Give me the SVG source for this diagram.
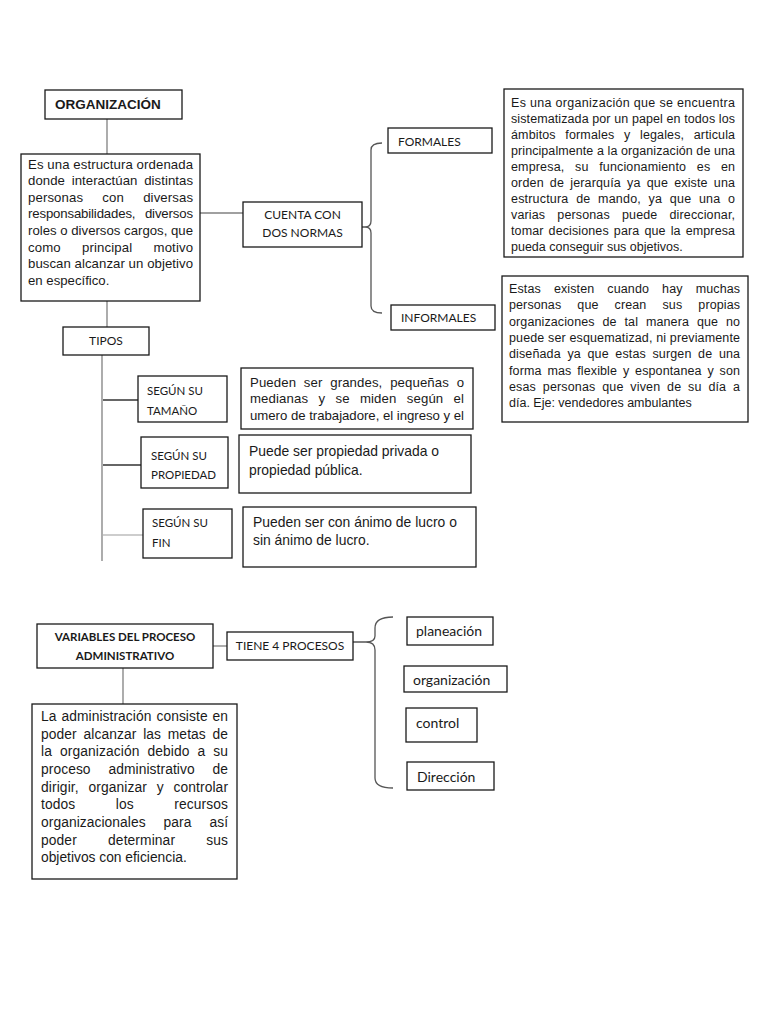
<svg xmlns="http://www.w3.org/2000/svg" width="768" height="1024" viewBox="0 0 768 1024">
<style>
.box{fill:#fff;stroke:#1a1a1a;stroke-width:1.3}
.ln{stroke:#808080;stroke-width:1.3;fill:none}
.dk{stroke:#333;stroke-width:1.3;fill:none}
.lt{stroke:#bdbdbd;stroke-width:1.3;fill:none}
.br{stroke:#555;stroke-width:1.3;fill:none}
.t{font-family:"Liberation Sans",Arial,sans-serif;fill:#1a1a1a}
.c{font-family:Lato,"Open Sans",sans-serif;fill:#1a1a1a}
.m{font-size:13.2px}
.r{font-size:12.5px}
.s{font-size:13.2px}
.b{font-size:13.8px}
</style>
<rect width="768" height="1024" fill="#fff"/>
<g id="connectors">
<line class="ln" x1="107" y1="119" x2="107" y2="154"/>
<line class="ln" x1="200" y1="213" x2="243" y2="213"/>
<line class="ln" x1="107" y1="301" x2="107" y2="327"/>
<line class="ln" x1="102" y1="355" x2="102" y2="561"/>
<line class="dk" x1="103" y1="400" x2="138" y2="400"/>
<line class="dk" x1="103" y1="465" x2="141" y2="465"/>
<line class="lt" x1="103" y1="535" x2="143" y2="535"/>
<path class="br" d="M382,143 Q371,143 371,150 L371,221 Q371,227 365,227 L362,227 M365,227 Q371,227 371,233 L371,306 Q371,313 382,313"/>
<line class="ln" x1="213" y1="646" x2="227" y2="646"/>
<line class="ln" x1="123" y1="668" x2="123" y2="704"/>
<path class="br" d="M393,617 Q375,617 375,628 L375,636 Q375,642 366,642 L353,642 M366,642 Q375,642 375,650 L375,778 Q375,788 393,788"/>
</g>
<g id="organizacion">
<rect class="box" x="45" y="90" width="137" height="29"/>
<text class="t" x="55" y="108.5" font-size="13.5" font-weight="bold">ORGANIZACIÓN</text>
</g>
<g id="definicion">
<rect class="box" x="21" y="154" width="179" height="147"/>
<g class="t m">
<text x="28" y="168.5" textLength="165" lengthAdjust="spacing">Es una estructura ordenada</text>
<text x="28" y="185.1" textLength="165" lengthAdjust="spacing" word-spacing="3">donde interactúan distintas</text>
<text x="28" y="201.7" textLength="165" lengthAdjust="spacing" word-spacing="15.5">personas con diversas</text>
<text x="28" y="218.3" textLength="165" lengthAdjust="spacing" word-spacing="6">responsabilidades, diversos</text>
<text x="28" y="234.9" textLength="165" lengthAdjust="spacing">roles o diversos cargos, que</text>
<text x="28" y="251.5" textLength="165" lengthAdjust="spacing" word-spacing="17.5">como principal motivo</text>
<text x="28" y="268.1" textLength="165" lengthAdjust="spacing">buscan alcanzar un objetivo</text>
<text x="28" y="284.7">en específico.</text>
</g>
</g>
<g id="cuenta">
<rect class="box" x="243" y="202" width="119" height="45"/>
<text class="c" font-size="12" text-anchor="middle"><tspan x="302.5" y="219">CUENTA CON</tspan><tspan x="302.5" y="237">DOS NORMAS</tspan></text>
</g>
<g id="formales">
<rect class="box" x="388" y="128" width="104" height="25"/>
<text class="c" x="398" y="146" font-size="12">FORMALES</text>
</g>
<g id="informales">
<rect class="box" x="391" y="305" width="104" height="25"/>
<text class="c" x="401" y="322" font-size="12">INFORMALES</text>
</g>
<g id="desc-formales">
<rect class="box" x="504" y="89" width="239" height="168"/>
<g class="t r">
<text x="511" y="106.5" textLength="224" lengthAdjust="spacing">Es una organización que se encuentra</text>
<text x="511" y="122.6" textLength="224" lengthAdjust="spacing">sistematizada por un papel en todos los</text>
<text x="511" y="138.7" textLength="224" lengthAdjust="spacing" word-spacing="6">ámbitos formales y legales, articula</text>
<text x="511" y="154.8" textLength="224" lengthAdjust="spacing">principalmente a la organización de una</text>
<text x="511" y="170.9" textLength="224" lengthAdjust="spacing" word-spacing="7">empresa, su funcionamiento es en</text>
<text x="511" y="187" textLength="224" lengthAdjust="spacing" word-spacing="2.5">orden de jerarquía ya que existe una</text>
<text x="511" y="203.1" textLength="224" lengthAdjust="spacing" word-spacing="4">estructura de mando, ya que una o</text>
<text x="511" y="219.2" textLength="224" lengthAdjust="spacing" word-spacing="8.5">varias personas puede direccionar,</text>
<text x="511" y="235.3" textLength="224" lengthAdjust="spacing" word-spacing="1.5">tomar decisiones para que la empresa</text>
<text x="511" y="251.4">pueda conseguir sus objetivos.</text>
</g>
</g>
<g id="desc-informales">
<rect class="box" x="502" y="276" width="246" height="146"/>
<g class="t r">
<text x="509" y="293" textLength="231" lengthAdjust="spacing" word-spacing="9.5">Estas existen cuando hay muchas</text>
<text x="509" y="309.3" textLength="231" lengthAdjust="spacing" word-spacing="12.5">personas que crean sus propias</text>
<text x="509" y="325.6" textLength="231" lengthAdjust="spacing" word-spacing="4.3">organizaciones de tal manera que no</text>
<text x="509" y="341.9" textLength="231" lengthAdjust="spacing">puede ser esquematizad, ni previamente</text>
<text x="509" y="358.2" textLength="231" lengthAdjust="spacing" word-spacing="3">diseñada ya que estas surgen de una</text>
<text x="509" y="374.5" textLength="231" lengthAdjust="spacing" word-spacing="2.2">forma mas flexible y espontanea y son</text>
<text x="509" y="390.8" textLength="231" lengthAdjust="spacing" word-spacing="3.2">esas personas que viven de su día a</text>
<text x="509" y="407.1">día. Eje: vendedores ambulantes</text>
</g>
</g>
<g id="tipos">
<rect class="box" x="63" y="327" width="86" height="28"/>
<text class="c" x="106" y="345" font-size="12" text-anchor="middle">TIPOS</text>
</g>
<g id="tamano">
<rect class="box" x="138" y="376" width="89" height="46"/>
<text class="c" font-size="11.5"><tspan x="147" y="395">SEGÚN SU</tspan><tspan x="147" y="415">TAMAÑO</tspan></text>
</g>
<g id="desc-tamano">
<rect class="box" x="241" y="368" width="232" height="61"/>
<g class="t s">
<text x="250" y="386.5" textLength="214" lengthAdjust="spacing" word-spacing="4">Pueden ser grandes, pequeñas o</text>
<text x="250" y="403" textLength="214" lengthAdjust="spacing" word-spacing="6.5">medianas y se miden según el</text>
<text x="250" y="419.5" textLength="214" lengthAdjust="spacing">umero de trabajadore, el ingreso y el</text>
</g>
</g>
<g id="propiedad">
<rect class="box" x="141" y="437" width="87" height="51"/>
<text class="c" font-size="11.5"><tspan x="151" y="460">SEGÚN SU</tspan><tspan x="151" y="479">PROPIEDAD</tspan></text>
</g>
<g id="desc-propiedad">
<rect class="box" x="239" y="435" width="232" height="58"/>
<text class="t" font-size="13.9"><tspan x="249" y="456">Puede ser propiedad privada o</tspan><tspan x="249" y="475">propiedad pública.</tspan></text>
</g>
<g id="fin">
<rect class="box" x="143" y="509" width="89" height="49"/>
<text class="c" font-size="11.5"><tspan x="152" y="527">SEGÚN SU</tspan><tspan x="152" y="547">FIN</tspan></text>
</g>
<g id="desc-fin">
<rect class="box" x="243" y="507" width="233" height="60"/>
<text class="t" font-size="13.9"><tspan x="253" y="526.5">Pueden ser con ánimo de lucro o</tspan><tspan x="253" y="545">sin ánimo de lucro.</tspan></text>
</g>
<g id="variables">
<rect class="box" x="37" y="624" width="176" height="44"/>
<text class="c" font-size="11.5" font-weight="bold" text-anchor="middle"><tspan x="125" y="641">VARIABLES DEL PROCESO</tspan><tspan x="125" y="660">ADMINISTRATIVO</tspan></text>
</g>
<g id="tiene">
<rect class="box" x="227" y="632" width="126" height="28"/>
<text class="c" x="290" y="650" font-size="12" text-anchor="middle">TIENE 4 PROCESOS</text>
</g>
<g id="planeacion">
<rect class="box" x="407" y="617" width="86" height="28"/>
<text class="c" x="416" y="636" font-size="14">planeación</text>
</g>
<g id="organizacion2">
<rect class="box" x="404" y="666" width="103" height="26"/>
<text class="c" x="413" y="685" font-size="14">organización</text>
</g>
<g id="control">
<rect class="box" x="406" y="708" width="71" height="34"/>
<text class="c" x="416" y="728" font-size="14">control</text>
</g>
<g id="direccion">
<rect class="box" x="407" y="762" width="87" height="28"/>
<text class="c" x="417" y="782" font-size="14">Dirección</text>
</g>
<g id="desc-administracion">
<rect class="box" x="32" y="704" width="205" height="175"/>
<g class="t b">
<text x="41" y="721" textLength="187" lengthAdjust="spacing" word-spacing="1">La administración consiste en</text>
<text x="41" y="738.7" textLength="187" lengthAdjust="spacing" word-spacing="2.8">poder alcanzar las metas de</text>
<text x="41" y="756.3" textLength="187" lengthAdjust="spacing" word-spacing="4">la organización debido a su</text>
<text x="41" y="774" textLength="187" lengthAdjust="spacing" word-spacing="14">proceso administrativo de</text>
<text x="41" y="791.7" textLength="187" lengthAdjust="spacing" word-spacing="5.8">dirigir, organizar y controlar</text>
<text x="41" y="809.3" textLength="187" lengthAdjust="spacing" word-spacing="36.5">todos los recursos</text>
<text x="41" y="827" textLength="187" lengthAdjust="spacing" word-spacing="14">organizacionales para así</text>
<text x="41" y="844.7" textLength="187" lengthAdjust="spacing" word-spacing="27.3">poder determinar sus</text>
<text x="41" y="862.3">objetivos con eficiencia.</text>
</g>
</g>
</svg>
